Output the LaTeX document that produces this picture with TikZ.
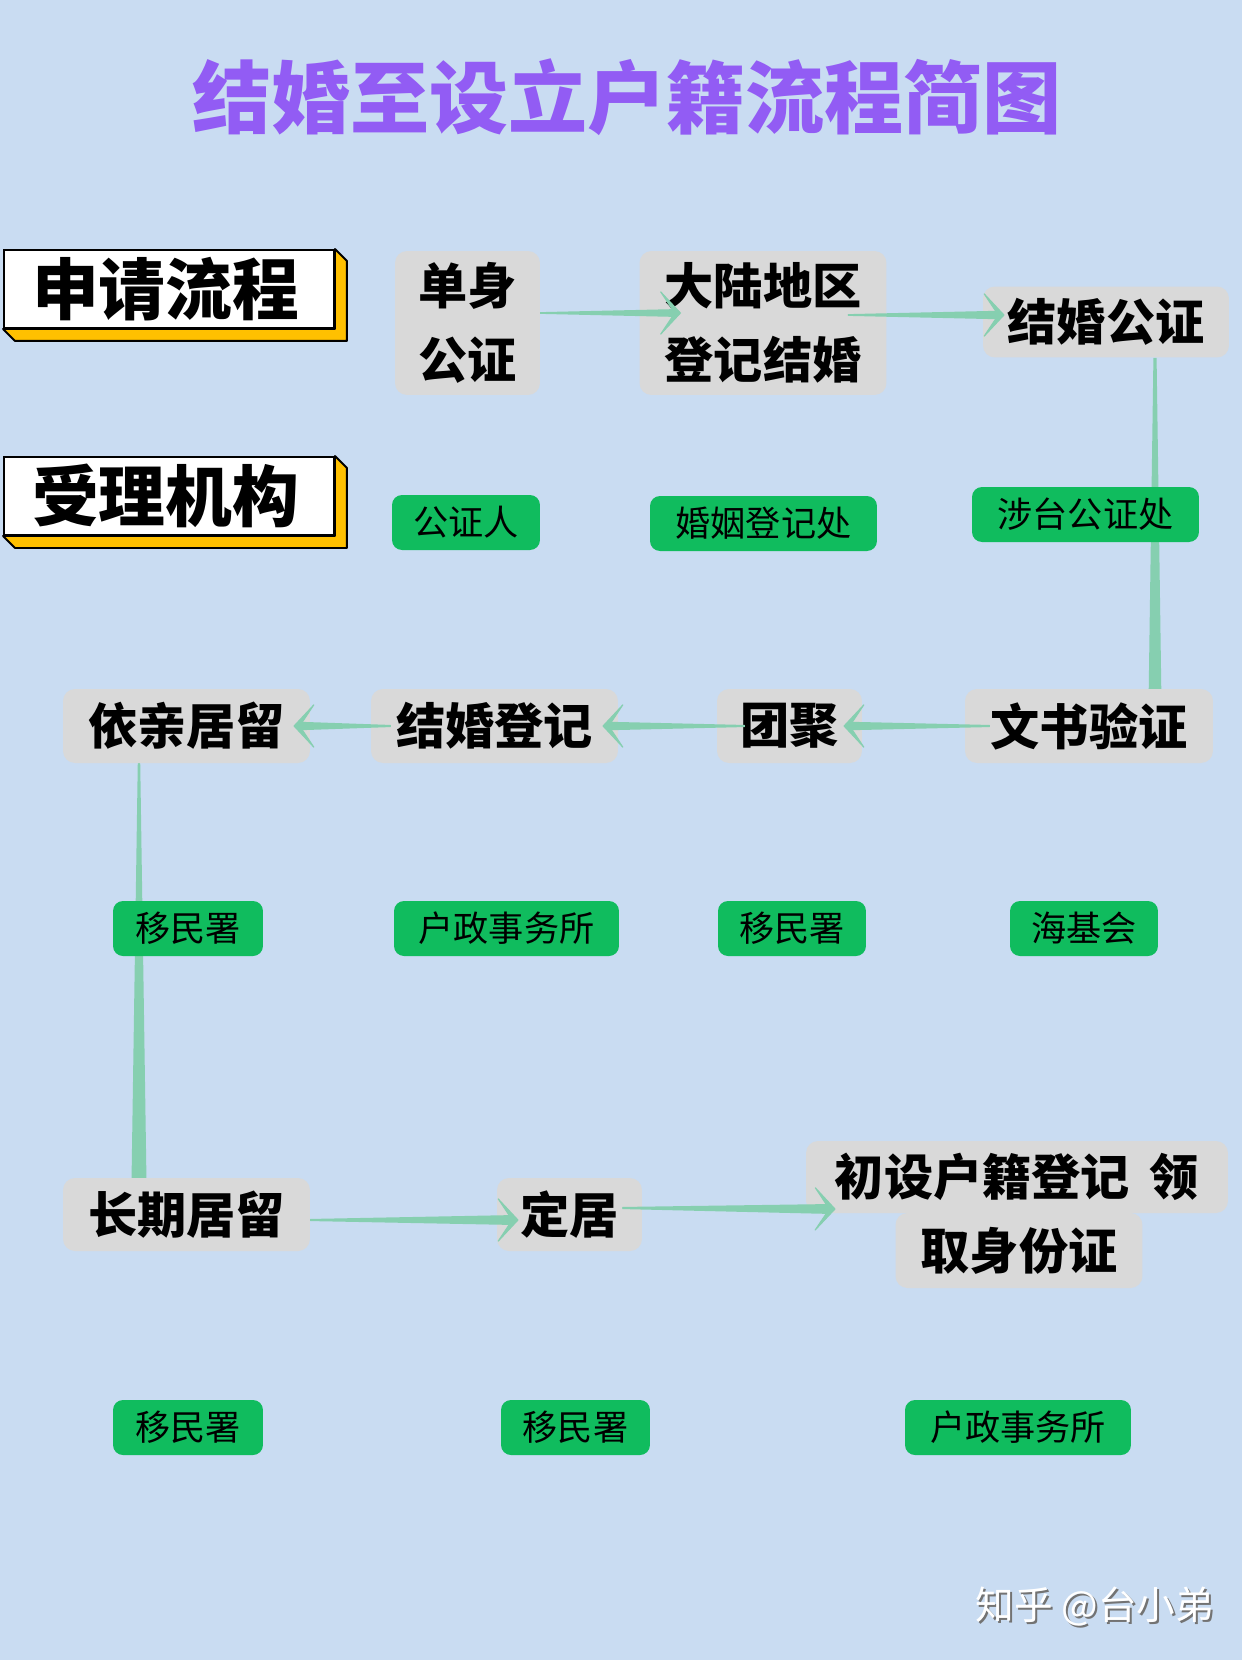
\documentclass[tikz,border=0pt]{standalone}
\usepackage{fontspec}
\usepackage{xcolor}
\usepackage{tikz}
\usetikzlibrary{arrows.meta}
\usetikzlibrary{calc}
\usetikzlibrary{positioning}
\newfontfamily\cjk{Noto Sans CJK SC}
\definecolor{bgblue}{RGB}{201,220,242}
\definecolor{titlepurple}{RGB}{146,92,244}
\definecolor{boxgray}{RGB}{217,217,217}
\definecolor{agencygreen}{RGB}{16,188,94}
\definecolor{flowgreen}{RGB}{134,207,176}
\definecolor{headyellow}{RGB}{255,192,0}
\pgfdeclarelayer{links}
\pgfsetlayers{links,main}
\tikzset{
  % common styles for the chart
  stepbox/.style={rectangle, fill=boxgray, rounded corners=0.24cm, inner sep=0pt, align=center,
    font=\cjk\bfseries\fontsize{28}{42}\selectfont},
  agency/.style={rectangle, fill=agencygreen, rounded corners=0.2cm, inner sep=0pt,
    minimum height=1.1cm, font=\cjk\fontsize{20}{22}\selectfont},
  header/.style={rectangle, draw=black, line width=1.1pt, fill=white, align=left,
    text width=5.48cm, inner xsep=0.56cm, minimum height=1.56cm, font=\cjk\bfseries\fontsize{38}{40}\selectfont},
  flowfill/.style={fill=flowgreen},
  flowtip/.style={draw=flowgreen, line width=0.6pt, -{Stealth[length=14pt, width=30pt, inset=10pt]}}
}
% tapered connector: start, tip, start half width, end half width
\newcommand{\taperlink}[4]{%
  \coordinate (tl-a) at (#1);
  \coordinate (tl-b) at (#2);
  \coordinate (tl-c) at ($(tl-b)!4pt!(tl-a)$);
  \fill[flowfill] ($(tl-a)!#3!90:(tl-c)$) -- ($(tl-c)!#4!-90:(tl-a)$) -- ($(tl-c)!#4!90:(tl-a)$) -- ($(tl-a)!#3!-90:(tl-c)$) -- cycle;
  \draw[flowtip] (tl-a) -- (tl-b);
}
\begin{document}
\begin{tikzpicture}[x=0.02cm, y=-0.02cm]
    \tikzstyle{yshadow} = [draw=black, line width=1.1pt, fill=headyellow, line join=round]

    % background
    \begin{pgfonlayer}{links}
    \fill[bgblue] (0,0) rectangle (1242,1660);
    \end{pgfonlayer}
    \useasboundingbox (0,0) rectangle (1242,1660);

    % title
    \node[font=\cjk\bfseries\fontsize{45}{50}\selectfont, text=titlepurple] (title) at (627,97) {结婚至设立户籍流程简图};

    % row headers
    \node[header] (apply) at (169,289) {申请流程};
    \filldraw[yshadow] (apply.north east) -- ($(apply.north east)+(12,12)$) -- ($(apply.south east)+(12,12)$)
        -- ($(apply.south west)+(12,12)$) -- (apply.south west) -- (apply.south east) -- cycle;
    \node[header] (office) at (169,496) {受理机构};
    \filldraw[yshadow] (office.north east) -- ($(office.north east)+(12,12)$) -- ($(office.south east)+(12,12)$)
        -- ($(office.south west)+(12,12)$) -- (office.south west) -- (office.south east) -- cycle;

    % process steps
    \node[stepbox, minimum width=2.9cm, minimum height=2.88cm] (single) at (467.5,323) {单身\\公证};
    \node[stepbox, minimum width=4.94cm, minimum height=2.88cm] (mainland) at (763,323) {大陆地区\\登记结婚};
    \node[stepbox, minimum width=4.92cm, minimum height=1.42cm] (notary) at (1106,322) {结婚公证};
    \node[stepbox, minimum width=4.96cm, minimum height=1.48cm] (docs) at (1089,726) {文书验证};
    \node[stepbox, minimum width=2.9cm, minimum height=1.48cm] (reunion) at (789.5,726) {团聚};
    \node[stepbox, minimum width=4.94cm, minimum height=1.48cm] (marry) at (494.5,726) {结婚登记};
    \node[stepbox, minimum width=4.94cm, minimum height=1.48cm] (kin) at (186.5,726) {依亲居留};
    \node[stepbox, minimum width=4.94cm, minimum height=1.46cm] (longstay) at (186.5,1214.5) {长期居留};
    \node[stepbox, minimum width=2.9cm, minimum height=1.46cm] (settle) at (569.5,1214.5) {定居};
    \node[stepbox, minimum width=4.94cm, minimum height=1.5cm] (idbot) at (1019,1250.5) {取身份证};
    \node[stepbox, minimum width=8.44cm, minimum height=1.44cm] (idtop) at (1017,1177) {初设户籍登记\hspace{0.4em}领};

    % agencies
    \node[agency, minimum width=2.96cm] (notaryA) at (466,522.5) {公证人};
    \node[agency, minimum width=4.54cm] (registry) at (763.5,523.5) {婚姻登记处};
    \node[agency, minimum width=4.54cm] (straits) at (1085.5,514.5) {涉台公证处};
    \node[agency, minimum width=3.0cm] (imm1) at (188,928.5) {移民署};
    \node[agency, minimum width=4.5cm] (house1) at (506.5,928.5) {户政事务所};
    \node[agency, minimum width=2.96cm] (imm2) at (792,928.5) {移民署};
    \node[agency, minimum width=2.96cm] (sef) at (1084,928.5) {海基会};
    \node[agency, minimum width=3.0cm] (imm3) at (188,1427.5) {移民署};
    \node[agency, minimum width=2.98cm] (imm4) at (575.5,1427.5) {移民署};
    \node[agency, minimum width=4.52cm] (house2) at (1018,1427.5) {户政事务所};

    % long vertical links run behind the boxes
    \begin{pgfonlayer}{links}
    \taperlink{$(notary.south)+(49,0)$}{$(docs.north)+(66,23)$}{0.9pt}{3.7pt}
    \taperlink{$(kin.south)+(-47.5,0)$}{$(longstay.north)+(-47.5,27)$}{0.7pt}{4.4pt}
    \end{pgfonlayer}

    % links between steps
    \taperlink{$(single.east)+(0,-10)$}{$(mainland.west)+(42,-10)$}{0.5pt}{2.2pt}
    \taperlink{$(mainland.east)+(-39,-8)$}{$(notary.west)+(22,-7)$}{0.5pt}{2.4pt}
    \taperlink{$(docs.west)+(25,0)$}{$(reunion.east)+(-19,0)$}{0.6pt}{2.4pt}
    \taperlink{$(reunion.west)+(28,0)$}{$(marry.east)+(-16,0)$}{0.6pt}{2.4pt}
    \taperlink{$(marry.west)+(20,0)$}{$(kin.east)+(-17,0)$}{0.6pt}{2.4pt}
    \taperlink{$(longstay.east)+(0,5.5)$}{$(settle.west)+(22,5.5)$}{0.6pt}{2.8pt}
    \taperlink{$(settle.east)+(-20,-6.5)$}{$(idtop.west)+(30,32)$}{0.6pt}{2.8pt}

    % watermark
    \node[font=\cjk\fontsize{22}{24}\selectfont, text=black!55] (markshadow) at (1097,1609) {知乎 @台小弟};
    \node[font=\cjk\fontsize{22}{24}\selectfont, text=white] (mark) at (1095,1607) {知乎 @台小弟};
\end{tikzpicture}
\end{document}
